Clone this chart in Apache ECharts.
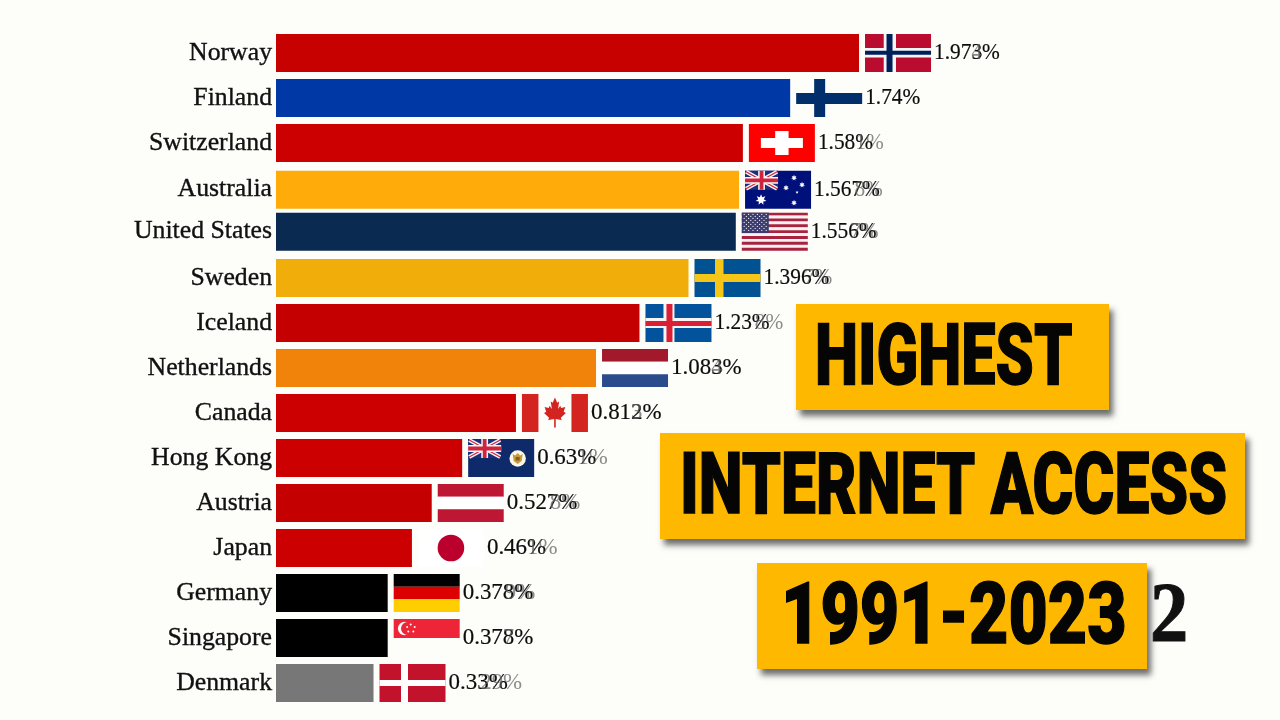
<!DOCTYPE html>
<html>
<head>
<meta charset="utf-8">
<style>
html,body{margin:0;padding:0;background:#fdfdfa}
#chart{width:1280px;height:720px}
</style>
<script src="https://cdn.jsdelivr.net/npm/echarts@6/dist/echarts.min.js"></script>
</head>
<body>
<div id="chart"></div>
<script>
// Broadband share per country, one frame of the 1991-2023 ranking race.
const countries = ['Norway','Finland','Switzerland','Australia','United States','Sweden','Iceland','Netherlands','Canada','Hong Kong','Austria','Japan','Germany','Singapore','Denmark'];
const values = [1.973,1.74,1.58,1.567,1.556,1.396,1.23,1.083,0.812,0.63,0.527,0.46,0.378,0.378,0.33];
// Ranks are fractional while two countries are swapping places.
const ranks = [1,2,3,4.04,4.97,6,7,8,9,10,11,12,13,14,15];
// Outgoing figures still fading over the current ones.
const fadingLabels = ['1.974%','','1.581%','1.568%','1.557%','1.397%','1.238%','1.084%','0.813%','0.631%','0.528%','0.461%','0.379%','0.377%','0.329%'];
const barColors = ['#c70000','#0039a6','#cc0000','#ffab0a','#0a2a52','#f1ae0b','#c40000','#f1830b','#cc0000','#cc0000','#c40000','#cc0000','#000000','#000000','#777777'];
const titleLines = ['HIGHEST','INTERNET ACCESS','1991-2023'];
const yearDigit = '2';

// Wider outgoing digits push the fading percent sign along on these rows.
const fadeNudge = {'Australia':3,'United States':2,'Sweden':3,'Iceland':3,'Austria':3,'Germany':2,'Denmark':3};

const FLAG_W = 66, FLAG_H = 38;
const rect = (x,y,width,height,fill) => ({type:'rect',shape:{x,y,width,height},style:{fill}});
const disc = (cx,cy,r,fill) => ({type:'circle',shape:{cx,cy,r},style:{fill}});
const seg = (x1,y1,x2,y2,stroke,lineWidth) => ({type:'line',shape:{x1,y1,x2,y2},style:{stroke,lineWidth}});
const poly = (points,fill) => ({type:'polygon',shape:{points},style:{fill}});

function star(cx,cy,r,n,fill){
  const pts=[];
  for(let k=0;k<n*2;k++){
    const a=-Math.PI/2+k*Math.PI/n, q=k%2?r*0.5:r;
    pts.push([cx+q*Math.cos(a),cy+q*Math.sin(a)]);
  }
  return poly(pts,fill);
}
function unionJack(w,h){
  return [
    rect(0,0,w,h,'#1c2f7a'),
    seg(1,1,w-1,h-1,'#f6f6f6',3.8), seg(w-1,1,1,h-1,'#f6f6f6',3.8),
    seg(1,1,w-1,h-1,'#d0243c',1.3), seg(w-1,1,1,h-1,'#d0243c',1.3),
    rect(w/2-3.4,0,6.8,h,'#f6f6f6'), rect(0,h/2-3.4,w,6.8,'#f6f6f6'),
    rect(w/2-1.9,0,3.8,h,'#d0243c'), rect(0,h/2-1.9,w,3.8,'#d0243c')
  ];
}
function tricolour(a,b,c){
  const t=FLAG_H/3;
  return [rect(0,0,FLAG_W,t,a),rect(0,t,FLAG_W,t,b),rect(0,2*t,FLAG_W,t,c)];
}
function nordic(field,outer,inner,vx,vw,hy,hh,ivx,ivw,ihy,ihh){
  const out=[rect(0,0,FLAG_W,FLAG_H,field),rect(vx,0,vw,FLAG_H,outer),rect(0,hy,FLAG_W,hh,outer)];
  if(inner) out.push(rect(ivx,0,ivw,FLAG_H,inner),rect(0,ihy,FLAG_W,ihh,inner));
  return out;
}
function mapleLeaf(cx,cy,sx,sy,fill){
  const half=[[0,-1],[.16,-.66],[.3,-.74],[.22,-.26],[.38,-.46],[.44,-.32],[.74,-.38],[.62,-.08],[.78,0],[.42,.3],[.48,.46],[.05,.38]];
  const right=half.map(p=>[cx+p[0]*sx,cy+p[1]*sy]);
  const left=half.slice(1).reverse().map(p=>[cx-p[0]*sx,cy+p[1]*sy]);
  return [poly(right.concat(left),fill),rect(cx-.8,cy+.38*sy-1,1.6,sy*.62,fill)];
}
const flagArt = {
  'Norway':()=>nordic('#ba0c2f','#f5f5f5','#00205b',18.7,12.3,14,9.5,21.5,6,16.7,4),
  'Finland':()=>[rect(18,0,11,FLAG_H,'#002f6c'),rect(0,14,FLAG_W,11,'#002f6c')],
  'Switzerland':()=>[rect(0,0,FLAG_W,FLAG_H,'#ff0000'),rect(12,14,42,10,'#fff'),rect(26.3,7,13.4,24,'#fff')],
  'Australia':()=>{
    const g=[rect(0,0,FLAG_W,FLAG_H,'#00107a')];
    const jack={type:'group',children:unionJack(33,19)};
    return g.concat([jack,star(16,29,5.6,7,'#fff'),star(49,7,3,7,'#fff'),star(57,14,3,7,'#fff'),star(41,17,3,7,'#fff'),star(52,21.5,1.6,5,'#fff'),star(49,32,3,7,'#fff')]);
  },
  'United States':()=>{
    const s=FLAG_H/13, g=[];
    for(let k=0;k<13;k++) g.push(rect(0,k*s,FLAG_W,s+(k<12?0.2:0),k%2?'#f6f2f2':'#a8233f'));
    g.push(rect(0,0,27,s*7,'#3c3b6e'));
    for(let r=0;r<9;r++) for(let c=0;c<(r%2?5:6);c++) g.push(disc(2.4+(r%2?2.2:0)+c*4.4,1.8+r*2,.65,'#e8e8f0'));
    return g;
  },
  'Sweden':()=>nordic('#005293','#f5c518',null,20.5,8.5,15,8),
  'Iceland':()=>nordic('#02529c','#f5f5f5','#dc1e35',18,11,14,10,21,6,17,5),
  'Netherlands':()=>tricolour('#a2192b','#ffffff','#2b4c8c'),
  'Canada':()=>[rect(0,0,16.5,FLAG_H,'#d32420'),rect(49.5,0,16.5,FLAG_H,'#d32420')].concat(mapleLeaf(33,19,14,15.5,'#d32420')),
  'Hong Kong':()=>[rect(0,0,FLAG_W,FLAG_H,'#0f2a6b'),{type:'group',children:unionJack(33,19)},disc(49.5,19.5,8.2,'#fbf6e8'),poly([[44.5,15],[47,16.5],[49.5,14],[52,16.5],[54.5,15],[53.5,22],[49.5,25],[45.5,22]],'#c79a3c'),rect(47.5,18,4,3.5,'#8a5a2c')],
  'Austria':()=>tricolour('#be1733','#ffffff','#be1733'),
  'Japan':()=>[rect(0,0,FLAG_W,FLAG_H,'#ffffff'),disc(33,19,13.3,'#bc002d')],
  'Germany':()=>tricolour('#000000','#dd0000','#ffce00'),
  'Singapore':()=>[rect(0,0,FLAG_W,19,'#ee2536'),disc(11,9.5,6.8,'#fff'),disc(13.7,9.5,6.4,'#ee2536'),
    disc(17,5.5,1,'#fff'),disc(21,8,1,'#fff'),disc(19.6,12.6,1,'#fff'),disc(14.6,12.6,1,'#fff'),disc(13.4,8,1,'#fff')],
  'Denmark':()=>nordic('#c2122c','#ffffff',null,21.5,7,16,6)
};

const VALUE_FONT = '24px "Liberation Serif", serif';
const NAME_FONT = '25px "Liberation Serif", serif';
const ruler = document.createElement('canvas').getContext('2d');
ruler.font = VALUE_FONT;

// Zeros set wider than the other digits, so figures holding one run a little longer.
const labelStretch = text => text.includes('0') ? .955 : .89;

// The part of an outgoing figure that differs from the current one, placed after the shared digits.
function fadingTail(label, current, labelX, y, nudge){
  let k = 0;
  while(k < label.length && label[k] === current[k]) k++;
  let tail = label.slice(k);
  if(!nudge && label.length === current.length) tail = tail.slice(0, -1);
  const stretch = labelStretch(current);
  return {type:'text',x:labelX + ruler.measureText(label.slice(0,k)).width*stretch + nudge,y,scaleX:stretch,
    style:{text:tail,font:VALUE_FONT,fill:'rgba(95,95,95,.72)',textAlign:'left',textVerticalAlign:'middle'}};
}

function renderRow(params, api){
  const i = params.dataIndex;
  const end = api.coord([api.value(0), api.value(1)]);
  const origin = api.coord([0, api.value(1)]);
  const rowH = api.size([0,1])[1];
  const barH = rowH * 0.845;
  const top = end[1] - barH/2;
  const name = countries[i];
  const flagX = end[0] + 6;
  const labelX = flagX + FLAG_W + 3;
  const current = api.value(0)+'%';
  const kids = [
    {type:'rect',shape:{x:origin[0],y:top,width:end[0]-origin[0],height:barH},style:{fill:barColors[i]}},
    {type:'group',x:flagX,y:top,children:flagArt[name]()},
    {type:'text',x:origin[0]-4,y:end[1],scaleX:1.03,style:{text:name,font:NAME_FONT,fill:'#111',stroke:'#111',lineWidth:.35,textAlign:'right',textVerticalAlign:'middle'}},
    {type:'text',x:labelX,y:end[1],scaleX:labelStretch(current),style:{text:current,font:VALUE_FONT,fill:'#0c0c0c',stroke:'#0c0c0c',lineWidth:.2,textAlign:'left',textVerticalAlign:'middle'}}
  ];
  if(fadingLabels[i]) kids.push(fadingTail(fadingLabels[i], current, labelX, end[1], fadeNudge[name] || 0));
  return {type:'group',children:kids};
}

function titleBox(x,y,w,h,textX,scale,text){
  return [
    {type:'rect',z:10,shape:{x,y,width:w,height:h},style:{fill:'#ffb800',shadowBlur:6,shadowOffsetX:4,shadowOffsetY:6,shadowColor:'rgba(30,30,30,.65)'}},
    {type:'text',z:11,x:textX,y:y+h/2+5.5,scaleX:scale,style:{text,font:'900 86px Roboto, sans-serif',fill:'#050505',stroke:'#050505',lineWidth:1.4,textAlign:'left',textVerticalAlign:'middle'}}
  ];
}

const chart = echarts.init(document.getElementById('chart'),null,{renderer:'canvas'});
chart.setOption({
  animation:false,
  backgroundColor:'#fdfdfa',
  grid:{left:276,top:30.5,width:591,height:675},
  xAxis:{type:'value',min:0,max:2,show:false},
  yAxis:{type:'value',min:0.5,max:15.5,inverse:true,show:false},
  series:[{
    type:'custom',
    clip:false,
    silent:true,
    renderItem:renderRow,
    encode:{x:0,y:1},
    data:values.map((v,i)=>[v,ranks[i]])
  }],
  graphic:[
    {type:'text',z:5,x:1150,y:619,scaleX:.9,style:{text:yearDigit,font:'bold 85px "Liberation Serif", serif',fill:'#111',stroke:'#111',lineWidth:1,textAlign:'left',textVerticalAlign:'middle'}},
    ...titleBox(796,304,313,106,815,.712,titleLines[0]),
    ...titleBox(660,433,585,106,680,.725,titleLines[1]),
    ...titleBox(757,563,390,106,781,.79,titleLines[2])
  ]
});
</script>
</body>
</html>
